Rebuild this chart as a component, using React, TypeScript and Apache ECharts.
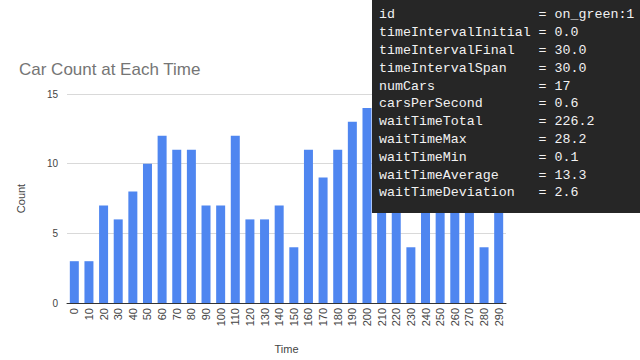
import React, { useEffect, useRef } from "react";
import * as echarts from "echarts";

const categories = ["0","10","20","30","40","50","60","70","80","90","100","110","120","130","140","150","160","170","180","190","200","210","220","230","240","250","260","270","280","290"];
const counts = [3,3,7,6,8,10,12,11,11,7,7,12,6,6,7,4,11,9,11,13,14,9,8,4,10,9,11,10,4,8];
const yTicks = [0, 5, 10, 15];
const statKeys = ["id","timeIntervalInitial","timeIntervalFinal","timeIntervalSpan","numCars","carsPerSecond","waitTimeTotal","waitTimeMax","waitTimeMin","waitTimeAverage","waitTimeDeviation"];
const statValues = ["on_green:1","0.0","30.0","30.0","17","0.6","226.2","28.2","0.1","13.3","2.6"];

export default function App() {
  const ref = useRef<HTMLDivElement>(null);
  useEffect(() => {
    if (!ref.current) return;
    const chart = echarts.init(ref.current, undefined, { renderer: "svg" });
    const lines = statKeys.map((k, i) => k.padEnd(20, " ") + "= " + statValues[i]);
    chart.setOption({
      animation: false,
      backgroundColor: "#ffffff",
      title: {
        text: "Car Count at Each Time",
        left: 14,
        top: 56,
        textStyle: { fontFamily: "Liberation Sans, Arial", fontSize: 17, fontWeight: "normal", color: "#757575" },
      },
      grid: { left: 67, right: 134, top: 94, bottom: 57 },
      xAxis: {
        type: "category",
        data: categories,
        name: "Time",
        nameLocation: "middle",
        nameGap: 40,
        nameTextStyle: { fontFamily: "Liberation Sans, Arial", fontSize: 11, color: "#444" },
        axisLine: { lineStyle: { color: "#333", width: 1 } },
        axisTick: { show: false },
        axisLabel: { rotate: 90, interval: 0, fontFamily: "Liberation Sans, Arial", fontSize: 11, color: "#444", margin: 5 },
      },
      yAxis: {
        type: "value",
        min: yTicks[0],
        max: yTicks[yTicks.length - 1],
        interval: 5,
        name: "Count",
        nameLocation: "middle",
        nameGap: 41,
        nameTextStyle: { fontFamily: "Liberation Sans, Arial", fontSize: 11, color: "#444" },
        axisLine: { show: false },
        axisTick: { show: false },
        axisLabel: { fontFamily: "Liberation Sans, Arial", fontSize: 10, color: "#444", margin: 9 },
        splitLine: { lineStyle: { color: "#d9d9d9", width: 1 } },
      },
      series: [
        {
          type: "bar",
          data: counts,
          barWidth: 9,
          itemStyle: { color: "#4f86f0" },
        },
      ],
      graphic: [
        {
          type: "rect",
          shape: { x: 372, y: 0, width: 268, height: 213 },
          style: { fill: "#262626" },
          z: 100,
        },
        {
          type: "text",
          x: 379,
          y: 6,
          z: 101,
          style: {
            text: lines.join("\n"),
            fontFamily: "Liberation Mono, DejaVu Sans Mono, monospace",
            fontSize: 13.3,
            lineHeight: 17.8,
            fill: "#f2f2f2",
          },
        },
      ],
    });
    return () => chart.dispose();
  }, []);
  return <div ref={ref} style={{ width: 640, height: 360, position: "fixed", left: 0, top: 0 }} />;
}
